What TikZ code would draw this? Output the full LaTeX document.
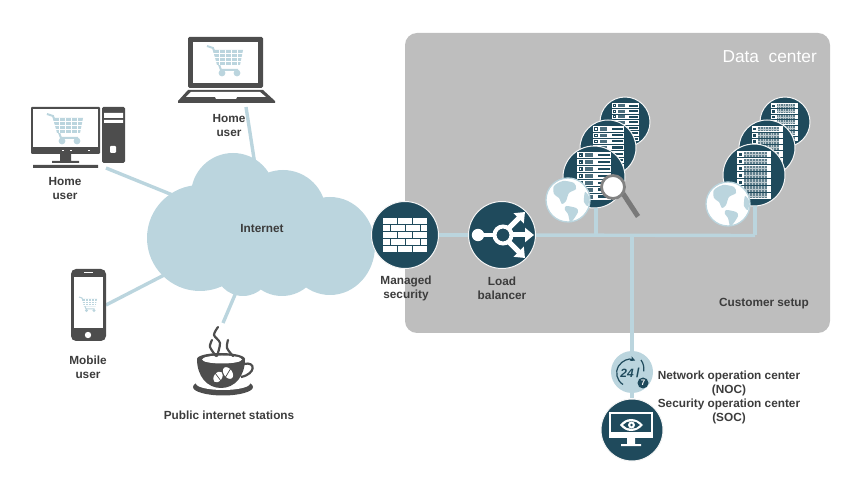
\documentclass[tikz,border=0pt]{standalone}
\usepackage{fontspec}
\usepackage{xcolor}
\usepackage{tikz}
\usetikzlibrary{arrows.meta}
\setmainfont{Liberation Sans}
\definecolor{ink}{HTML}{4D4D4D}
\definecolor{teal}{HTML}{1F4A5C}
\definecolor{pale}{HTML}{BBD5DE}
\definecolor{panel}{HTML}{BEBEBE}
\definecolor{label}{HTML}{3C3C3C}
\newcommand{\cartIcon}[3]{
	\begin{scope}[shift={(#1,#2)},scale=#3]
		\draw[pale,line width=#3*2pt] (-18,-14) -- (-12,-12) -- (-4,10) -- (13,10);
		\fill[pale] (-12,-10) -- (18,-10) -- (15,5) -- (-8,5) -- cycle;
		\foreach \s in {-6,-2,2} {\draw[white,line width=#3*1pt] (-13,\s) -- (18,\s);}
		\foreach \s in {-6,0,6,12} {\draw[white,line width=#3*.4pt] (\s,-10) -- (\s,5);}
		\fill[pale] (-3,13) circle (3.4) (12,13) circle (3.4);
	\end{scope}}
\newcommand{\rackIcon}[4]{
	\begin{scope}[shift={(#1,#2)},scale=#3]
		\fill[white] (0,0) rectangle (34,48);
		\foreach \r in {0,...,6} {
			\ifnum#4=0
				\fill[teal] (1.5,\r*6.9+1.5) rectangle (5.5,\r*6.9+5.5);
				\fill[white] (2.7,\r*6.9+2.7) rectangle (4.3,\r*6.9+4.3);
				\fill[teal!80] (8,\r*6.9+1.5) rectangle (16,\r*6.9+5.5);
				\fill[teal] (21,\r*6.9+2) rectangle (33,\r*6.9+4.5);
			\else
				\fill[teal] (1.5,\r*6.9+2) rectangle (4.5,\r*6.9+5);
				\fill[teal!70] (7,\r*6.9+.8) rectangle (29.5,\r*6.9+6.1);
				\draw[white!70!teal,line width=.4pt] (7,\r*6.9+3.4) -- (29.5,\r*6.9+3.4);
				\foreach \c in {9,12,15,18,21,24,27} {
					\draw[white!70!teal,line width=.5pt] (\c,\r*6.9+.8) -- (\c,\r*6.9+6.1);
				}
			\fi
			\fill[teal] (0,\r*6.9+6.4) rectangle (34,\r*6.9+6.9);
		}
	\end{scope}}
\newcommand{\globeIcon}[2]{
	\begin{scope}[shift={(#1,#2)}]
		\fill[white,draw=pale,line width=1.3pt] (0,0) circle (22);
		\fill[pale] plot[smooth cycle] coordinates {(-14,-14) (-5,-19) (6,-17) (8,-11) (1,-7) (-2,1) (-6,4) (-9,-2) (-14,-6)};
		\fill[pale] plot[smooth cycle] coordinates {(-2,6) (8,8) (10,12) (5,20) (2,22) (0,14) (-3,10)};
		\fill[pale] plot[smooth cycle] coordinates {(17,-8) (21,-3) (20,6) (16,2)};
	\end{scope}}
\tikzset{
	wire/.style={pale,line width=3.4pt},
	tag/.style={text=label,font=\fontsize{11.8}{14}\selectfont\bfseries,align=center,inner sep=0pt},
	disc/.style={circle,fill=teal,draw=white!85!panel,line width=1pt,inner sep=0pt},
	lump/.style={fill=pale},
	steam/.style={ink,line width=2.2pt,line cap=round}
}
\begin{document}
\begin{tikzpicture}[x=1pt,y=-1pt]
	\useasboundingbox (0,0) rectangle (860,494);
	% panel
	\node (panel) [fill=panel,rounded corners=12pt,minimum width=425pt,minimum height=300pt,inner sep=0pt] at (617.5,183) {};
	% ends of the links
	\coordinate (deskEnd) at (106,168);
	\coordinate (cloudA) at (180,198);
	\coordinate (laptopEnd) at (246,107);
	\coordinate (cloudB) at (255,165);
	\coordinate (phoneEnd) at (106,305);
	\coordinate (cloudC) at (170,272);
	\coordinate (cupEnd) at (223,323);
	\coordinate (cloudD) at (237,290);
	\coordinate (busEnd) at (755,235.5);
	\coordinate (tapA) at (596,235.5);
	\coordinate (tapB) at (632,235.5);
	\draw[wire] (deskEnd) -- (cloudA);
	\draw[wire] (laptopEnd) -- (cloudB);
	\draw[wire] (phoneEnd) -- (cloudC);
	\draw[wire] (cupEnd) -- (cloudD);
	% cloud
	\foreach \cx/\cy/\cr in {200/238/53,233/195/42,283/213/43,243/268/28,282/258/38,270/235/50} {
		\fill[lump] (\cx,\cy) circle (\cr);
	}
	\fill[lump] (330,246) ellipse (45 and 49);
	\node (internet) [tag] at (262,229) {Internet};
	% laptop
	\fill[ink,rounded corners=1.5pt] (188,37) rectangle (263,88);
	\fill[white] (193,42) rectangle (258,83);
	\fill[ink] (178,101) -- (188,90) -- (263,90) -- (275,101) -- (275,103) -- (178,103) -- cycle;
	\fill[white] (191,92) -- (260,92) -- (266,97) -- (237,97) -- (236,99) -- (216,99) -- (215,97) -- (186,97) -- cycle;
	\cartIcon{225}{60}{1}
	\node [tag] at (229,125.5) {Home\\user};
	% desktop
	\fill[ink,rounded corners=1pt] (31,107) rectangle (100,154);
	\fill[white] (33,109) rectangle (98,147);
	\fill[ink] (60,154) rectangle (71,162) (52,161) rectangle (79,163) (33,165) rectangle (98,168);
	\fill[ink,rounded corners=1.5pt] (102,107) rectangle (125,163);
	\fill[white] (104,113) rectangle (123,118) (104,120) rectangle (123,123);
	\fill[white,rounded corners=1pt] (110,146) rectangle (116,153);
	\foreach \s in {92,100,118} {\fill[white] (\s-30,150) rectangle (\s-28.5,151.5);}
	\cartIcon{65}{128}{1}
	\node [tag] at (65,189) {Home\\user};
	% phone
	\fill[ink,rounded corners=5pt] (71,269) rectangle (106,341);
	\fill[white] (74,277) rectangle (103,328);
	\fill[white] (88,335) circle (3.2);
	\fill[white] (84,272.5) rectangle (93,273.5);
	\cartIcon{88}{304}{.5}
	\node [tag] at (88,367) {Mobile\\user};
	% cup
	\fill[ink] (223,387) ellipse (30 and 8.5);
	\fill[white] (223,383.5) ellipse (27 and 6.5);
	\fill[ink] (197,359) .. controls (197,376) and (207,388) .. (221,388) .. controls (235,388) and (245,376) .. (245,359) -- cycle;
	\fill[ink] (221,359) ellipse (24 and 6);
	\draw[ink,line width=2.2pt] (244,364) .. controls (256,361) and (256,374) .. (241,377);
	\fill[white] (222,359.5) ellipse (20 and 4);
	\draw[steam] plot[smooth] coordinates {(218,327) (214,335) (220,343) (217,356)};
	\draw[steam] plot[smooth] coordinates {(212,340) (210,347) (216,356)};
	\draw[steam] plot[smooth] coordinates {(228,340) (227,348) (233,356)};
	\fill[white,rotate around={-35:(218,377)}] (218,377) ellipse (4 and 6);
	\fill[white,rotate around={35:(228,373)}] (228,373) ellipse (4.2 and 6.5);
	\draw[ink,line width=.7pt] (215,373) -- (221,381) (231,368) -- (225,378);
	\node [tag] at (229,415) {Public internet stations};
	% firewall
	\node (firewall) [disc,minimum size=67pt] at (405,235) {};
	\fill[white] (383,217) rectangle (427,252);
	\foreach \r in {0,1,2,3,4} {
		\draw[teal,line width=.7pt] (383,217+\r*7) -- (427,217+\r*7);
	}
	\foreach \r in {0,2,4} {\foreach \s in {-8,7} {\draw[teal,line width=.7pt] (405+\s,217+\r*7) -- (405+\s,224+\r*7);}}
	\foreach \r in {1,3} {\foreach \s in {-15,0,15} {\draw[teal,line width=.7pt] (405+\s,217+\r*7) -- (405+\s,224+\r*7);}}
	\node [tag] at (406,288) {Managed\\security};
	% load balancer
	\node (balancer) [disc,minimum size=67pt] at (502,235) {};
	\draw[white,line width=4pt] (478,235) -- (493,235);
	\fill[white] (478,235) circle (6.2);
	\draw[white,line width=4pt] (503,235) circle (8.5);
	\draw[white,line width=5pt,-{Triangle[width=14pt,length=9pt]}] (512,235) -- (534,235);
	\draw[white,line width=5pt,-{Triangle[width=14pt,length=9pt]}] (509,228) -- (525,212);
	\draw[white,line width=5pt,-{Triangle[width=14pt,length=9pt]}] (509,242) -- (525,258);
	\node [tag] at (502,288.5) {Load\\balancer};
	% links of the data center
	\draw[wire] (firewall) -- (balancer);
	\draw[wire] (balancer) -- (busEnd);
	% servers left
	\node (srvC) [disc,minimum size=50pt] at (625,122) {};
	\rackIcon{612}{103}{.8}{0}
	\node (srvB) [disc,minimum size=56pt] at (608,148) {};
	\rackIcon{593}{126}{.9}{0}
	\node (srvA) [disc,minimum size=62pt] at (594,177) {};
	\rackIcon{577}{152}{1}{0}
	\draw[wire] (tapA) -- (tapA |- srvA.south);
	\globeIcon{568}{200}
	\fill[ink!75!white] (621,195) -- (625,192) -- (640,215) -- (636,218) -- cycle;
	\fill[white,draw=ink!70!white,line width=2.8pt] (613,187) circle (11.5);
	% servers right
	\node (srvF) [disc,minimum size=50pt] at (785,122) {};
	\rackIcon{771}{103}{.8}{1}
	\node (srvE) [disc,minimum size=56pt] at (767,148) {};
	\rackIcon{752}{126}{.9}{1}
	\node (srvD) [disc,minimum size=62pt] at (754,175) {};
	\rackIcon{737}{151}{1}{1}
	\draw[wire] (busEnd) -- (busEnd |- srvD.south);
	\globeIcon{728}{204}
	% operation centers
	\node (noc) [circle,fill=pale,minimum size=42pt,inner sep=0pt] at (632,372) {};
	\node (soc) [disc,minimum size=62pt] at (632,430) {};
	\draw[wire] (tapB) -- (noc);
	\draw[wire] (noc) -- (soc);
	\draw[teal,line width=1.2pt,-{Stealth[length=5pt,width=5pt]}] (623,384.5) arc (122:292:13.5);
	\draw[teal,line width=1.2pt] (641,360) arc (-36:10:15);
	\node (hours) [text=teal,font=\fontsize{12}{12}\selectfont\bfseries\itshape,inner sep=0pt] at (627,373) {24};
	\node (slash) [text=teal,font=\fontsize{13}{13}\selectfont\bfseries,inner sep=0pt] at (638,373) {/};
	\node (days) [circle,fill=teal,text=white,font=\fontsize{8}{8}\selectfont\bfseries,minimum size=11pt,inner sep=0pt] at (643,383) {7};
	\fill[white] (609,412) rectangle (653,438);
	\fill[teal] (611,414) rectangle (651,432);
	\fill[white] (627,438) rectangle (635,444) (621,444) rectangle (641,446);
	\fill[white] (620,425) .. controls (626,417) and (636,417) .. (643,425) .. controls (636,433) and (626,433) .. (620,425) -- cycle;
	\fill[teal] (623,425) .. controls (627,420) and (636,420) .. (640,425) .. controls (636,430) and (627,430) .. (623,425) -- cycle;
	\fill[white] (631.5,425) circle (3.5);
	\fill[teal] (631.5,425) circle (1.4);
	% texts of the panel
	\node (dcTitle) [text=white,font=\fontsize{17.3}{20}\selectfont,inner sep=0pt,anchor=east] at (817,57) {Data\ \ center};
	\node (setup) [tag] at (764,304) {Customer setup};
	\node (opsText) [tag] at (729,397) {Network operation center\\(NOC)\\Security operation center\\(SOC)};
\end{tikzpicture}
\end{document}
